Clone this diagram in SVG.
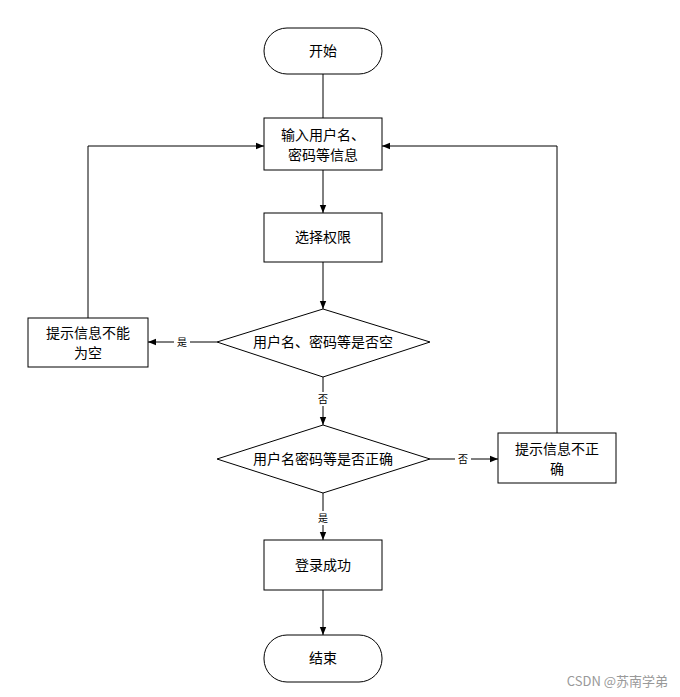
<svg xmlns="http://www.w3.org/2000/svg" width="680" height="697" viewBox="0 0 680 697">
<style>
.s{fill:#fff;stroke:#000;stroke-width:1}
.t{font-family:"Noto Sans CJK SC",sans-serif;font-size:14px;text-anchor:middle;fill:#000}
.l{font-family:"Noto Sans CJK SC",sans-serif;font-size:10px;text-anchor:middle;fill:#000}
.c{fill:none;stroke:#000;stroke-width:1}
</style>
<defs><marker id="a" viewBox="0 0 10 10" refX="10" refY="5" markerWidth="8" markerHeight="8" orient="auto"><path d="M0,1 L10,5 L0,9 z" fill="#000"/></marker></defs>
<rect width="680" height="697" fill="#fff"/>
<g id="connectors">
<line class="c" x1="323" y1="74" x2="323" y2="118"/>
<line class="c" x1="323" y1="170" x2="323" y2="213" marker-end="url(#a)"/>
<line class="c" x1="323" y1="262" x2="323" y2="309" marker-end="url(#a)"/>
<line class="c" x1="217" y1="342" x2="148" y2="342" marker-end="url(#a)"/>
<polyline class="c" points="88,318 88,146 264,146" marker-end="url(#a)"/>
<line class="c" x1="323" y1="377" x2="323" y2="425" marker-end="url(#a)"/>
<line class="c" x1="430" y1="459" x2="498" y2="459" marker-end="url(#a)"/>
<polyline class="c" points="557,433 557,146 382,146" marker-end="url(#a)"/>
<line class="c" x1="323" y1="493" x2="323" y2="540" marker-end="url(#a)"/>
<line class="c" x1="323" y1="590" x2="323" y2="635" marker-end="url(#a)"/>
<rect x="174" y="335" width="16" height="14" fill="#fff"/><text class="l" x="182" y="346">是</text>
<rect x="315" y="392" width="16" height="14" fill="#fff"/><text class="l" x="323" y="403">否</text>
<rect x="455" y="452" width="16" height="14" fill="#fff"/><text class="l" x="463" y="463">否</text>
<rect x="315" y="511" width="16" height="14" fill="#fff"/><text class="l" x="323" y="522">是</text>
</g>
<g id="start"><rect class="s" x="264" y="28" width="118" height="46" rx="23"/><text class="t" x="323" y="56">开始</text></g>
<g id="input"><rect class="s" x="264" y="118" width="118" height="52"/><text class="t" x="323" y="140">输入用户名、</text><text class="t" x="323" y="160">密码等信息</text></g>
<g id="role"><rect class="s" x="264" y="213" width="118" height="49"/><text class="t" x="323" y="242">选择权限</text></g>
<g id="d1"><polygon class="s" points="323,309 430,342 323,377 217,342"/><text class="t" x="323" y="347">用户名、密码等是否空</text></g>
<g id="empty"><rect class="s" x="28" y="318" width="120" height="49"/><text class="t" x="88" y="338">提示信息不能</text><text class="t" x="88" y="358">为空</text></g>
<g id="d2"><polygon class="s" points="323,425 430,459 323,493 217,459"/><text class="t" x="323" y="464">用户名密码等是否正确</text></g>
<g id="wrong"><rect class="s" x="498" y="433" width="118" height="50"/><text class="t" x="557" y="454">提示信息不正</text><text class="t" x="557" y="474">确</text></g>
<g id="ok"><rect class="s" x="264" y="540" width="118" height="50"/><text class="t" x="323" y="570">登录成功</text></g>
<g id="end"><rect class="s" x="264" y="635" width="118" height="47" rx="23"/><text class="t" x="323" y="663">结束</text></g>
<text x="668" y="686" font-family="'Noto Sans CJK SC',sans-serif" font-size="13" fill="#999" text-anchor="end">CSDN @苏南学弟</text>
</svg>
